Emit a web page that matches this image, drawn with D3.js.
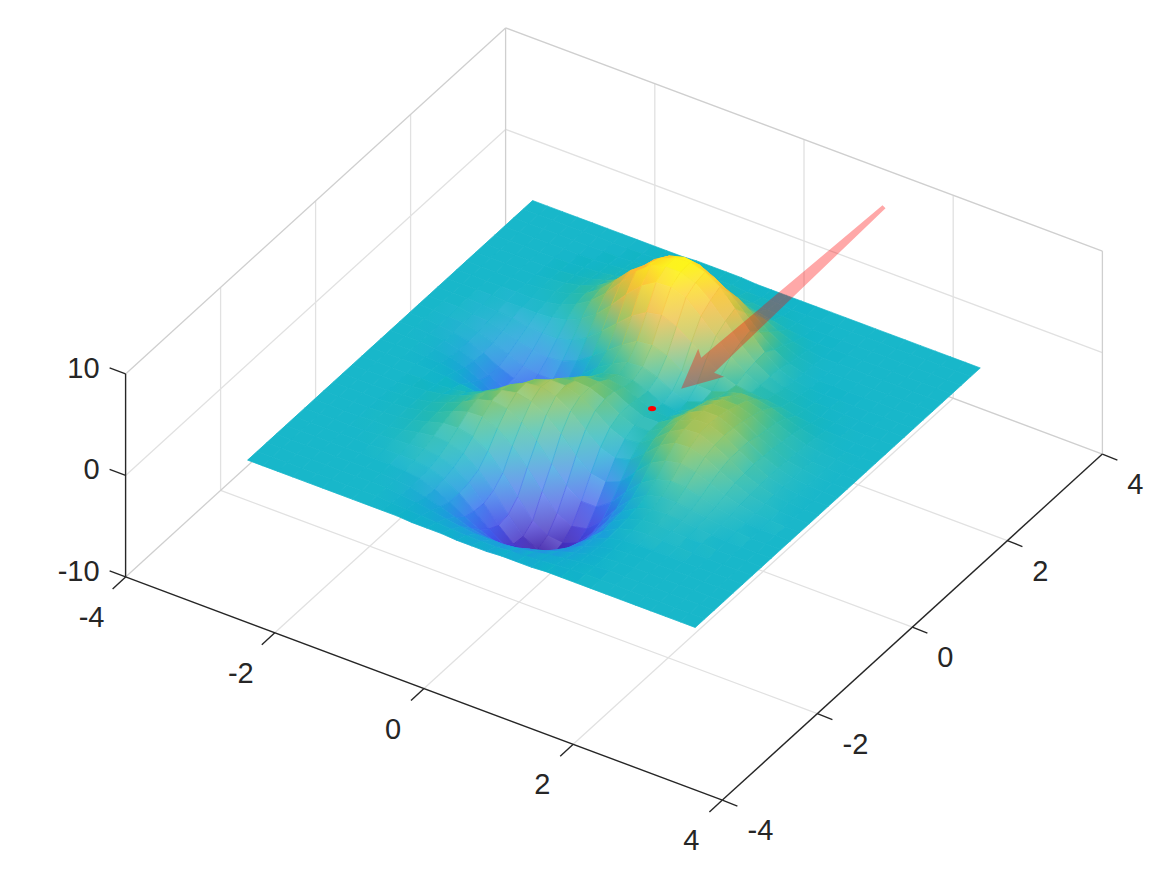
<!DOCTYPE html>
<html><head><meta charset="utf-8">
<script src="https://cdn.jsdelivr.net/npm/d3@7"></script>
<style>html,body{margin:0;background:#fff}svg{display:block}text{font-family:"Liberation Sans",Arial,sans-serif;font-size:29px;fill:#262626}</style>
</head><body><div id="c"></div>
<script>
// Heights are hand-typed eye estimates at 0.2 spacing; the source mesh is about four times finer.
const xGrid=[-3,-2.8,-2.6,-2.4,-2.2,-2,-1.8,-1.6,-1.4,-1.2,-1,-.8,-.6,-.4,-.2,0,.2,.4,.6,.8,1,1.2,1.4,1.6,1.8,2,2.2,2.4,2.6,2.8,3];
const yGrid=[-3,-2.8,-2.6,-2.4,-2.2,-2,-1.8,-1.6,-1.4,-1.2,-1,-.8,-.6,-.4,-.2,0,.2,.4,.6,.8,1,1.2,1.4,1.6,1.8,2,2.2,2.4,2.6,2.8,3];
const zRows=[
[0,0,0,0,0,0,0,0,0,0,0,-.1,-.1,-.1,-.2,-.2,-.2,-.1,-.1,-.1,0,0,0,0,0,0,0,0,0,0,0],
[0,0,0,0,0,0,0,0,0,-.1,-.2,-.3,-.4,-.5,-.6,-.6,-.6,-.5,-.4,-.3,-.2,-.1,0,0,0,0,0,0,0,0,0],
[0,0,0,0,0,0,0,0,0,-.2,-.4,-.6,-.9,-1.1,-1.3,-1.3,-1.3,-1.1,-.9,-.6,-.4,-.2,-.1,0,0,0,0,0,0,0,0],
[0,0,0,0,0,0,0,0,-.1,-.3,-.7,-1.1,-1.6,-2.1,-2.4,-2.5,-2.4,-2,-1.6,-1.1,-.7,-.3,-.1,0,0,0,0,0,0,0,0],
[0,0,0,0,0,0,0,0,-.1,-.3,-.8,-1.5,-2.4,-3.1,-3.7,-3.9,-3.7,-3.2,-2.4,-1.6,-.9,-.4,-.1,0,0,0,0,0,0,0,0],
[0,0,0,0,0,0,.1,.1,.1,-.1,-.6,-1.5,-2.7,-3.9,-4.9,-5.3,-5.1,-4.3,-3.2,-2,-1,-.4,-.1,0,0,0,0,0,0,0,0],
[0,0,0,0,0,.1,.2,.3,.4,.2,-.3,-1.3,-2.8,-4.4,-5.7,-6.3,-6.2,-5.3,-3.9,-2.4,-1.1,-.3,.1,.2,.1,.1,0,0,0,0,0],
[0,0,0,0,.1,.1,.3,.6,.8,.7,.2,-.9,-2.4,-4.2,-5.8,-6.5,-6.5,-5.7,-4.2,-2.5,-1,-.2,.2,.3,.2,.1,.1,0,0,0,0],
[0,0,0,0,.1,.2,.4,.8,1.2,1.3,1,.1,-1.5,-3.3,-5.1,-6,-6.2,-5.6,-4.1,-2.4,-.9,0,.4,.5,.4,.2,.1,0,0,0,0],
[0,0,0,0,.1,.2,.5,.9,1.5,2,2.1,1.5,.3,-1.3,-3.1,-4.7,-5.4,-5.1,-3.8,-2,-.5,.4,.8,.8,.6,.4,.2,.1,0,0,0],
[0,0,0,0,.1,.2,.5,1,1.6,2.4,2.8,2.6,1.8,.5,-1.2,-2.8,-3.8,-3.8,-2.8,-1.2,.2,1.1,1.5,1.4,1,.6,.3,.1,0,0,0],
[0,0,0,0,.1,.2,.4,.8,1.4,2.3,3,3.3,3,2.2,.9,-.7,-1.9,-2.2,-1.6,-.1,1.3,2.1,2.4,2.1,1.5,.9,.5,.2,.1,0,0],
[0,0,0,0,0,0,.1,.3,.9,1.7,2.7,3.4,3.6,3.2,2.3,1,-.2,-.7,-.3,.9,2.2,3,3.1,2.7,1.9,1.2,.6,.3,.1,0,0],
[0,0,0,0,0,-.1,-.3,-.5,-.1,.7,1.9,2.9,3.4,3.4,2.9,2,.9,.3,.5,1.5,2.7,3.5,3.6,3,2.2,1.3,.7,.3,.1,0,0],
[0,0,0,-.1,-.2,-.4,-1,-1.5,-1.4,-.6,.6,1.9,2.7,3,2.9,2.3,1.4,.8,.8,1.7,2.9,3.6,3.7,3.1,2.2,1.4,.7,.3,.1,0,0],
[0,0,0,-.2,-.4,-.9,-1.6,-2.4,-2.6,-1.9,-.7,.8,1.9,2.6,2.6,2.2,1.4,.8,.8,1.7,2.9,3.6,3.6,3,2.2,1.3,.7,.3,.1,0,0],
[0,0,-.1,-.2,-.6,-1.1,-2,-2.7,-3,-2.7,-1.6,-.2,1,1.7,2,1.8,1.2,.6,.5,1.4,2.6,3.4,3.4,2.8,1.9,1.2,.6,.3,.1,0,0],
[0,0,-.1,-.3,-.6,-1.2,-2,-2.6,-3,-2.9,-2.1,-.9,.3,1.2,1.6,1.6,1.1,.4,.2,1,2.3,3,3,2.5,1.7,1,.5,.2,.1,0,0],
[0,0,-.1,-.2,-.5,-1,-1.6,-2.2,-2.5,-2.5,-1.9,-.8,.4,1.3,2,2.1,1.6,.8,.3,.8,1.8,2.5,2.6,2.2,1.5,.9,.4,.2,.1,0,0],
[0,0,0,-.2,-.3,-.7,-1.1,-1.5,-1.7,-1.5,-.9,.1,1.2,2.3,3.2,3.4,2.9,1.9,1.1,1,1.5,1.9,1.9,1.6,1.1,.6,.3,.1,0,0,0],
[0,0,0,-.1,-.2,-.3,-.6,-.7,-.7,-.3,.5,1.7,3,4.3,5.2,5.5,4.9,3.9,2.8,1.8,1.3,1.1,1,.8,.5,.3,.1,.1,0,0,0],
[0,0,0,0,-.1,-.1,-.1,0,.3,1,2,3.4,5,6.4,7.3,7.4,6.9,5.6,4.2,2.8,1.7,1,.7,.5,.3,.1,.1,0,0,0,0],
[0,0,0,0,0,0,.1,.4,1,1.9,3.2,4.8,6.4,7.6,8,8,7.5,6.3,4.8,3.2,1.9,1,.5,.3,.1,.1,0,0,0,0,0],
[0,0,0,0,0,.1,.3,.6,1.2,2.2,3.6,5.1,6.2,7.4,8,8.1,7.7,6.8,5.2,3.5,2,.9,.3,.1,0,0,0,0,0,0,0],
[0,0,0,0,0,.1,.3,.6,1.1,2,3.2,4.5,5.9,6.8,7.2,7,6.3,5.4,4,2.6,1.4,.6,.2,0,0,0,0,0,0,0,0],
[0,0,0,0,0,.1,.2,.4,.8,1.4,2.3,3.3,4.3,5,5.2,5.1,4.5,3.9,2.9,1.8,1,.4,.1,0,0,0,0,0,0,0,0],
[0,0,0,0,0,0,.1,.2,.4,.8,1.3,2,2.6,3,3.1,3,2.6,2.1,1.7,1,.5,.2,0,0,0,0,0,0,0,0,0],
[0,0,0,0,0,0,0,.1,.2,.4,.6,1,1.3,1.5,1.5,1.4,1.2,.9,.6,.3,.1,0,0,0,0,0,0,0,0,0,0],
[0,0,0,0,0,0,0,0,.1,.2,.3,.4,.6,.6,.6,.5,.4,.3,.2,.1,0,0,0,0,0,0,0,0,0,0,0],
[0,0,0,0,0,0,0,0,0,.1,.1,.2,.2,.2,.2,.1,.1,.1,0,0,0,0,0,0,0,0,0,0,0,0,0],
[0,0,0,0,0,0,0,0,0,0,0,.1,.1,.1,.1,0,0,0,0,0,0,0,0,0,0,0,0,0,0,0,0]];
const xTicks=[-4,-2,0,2,4], yTicks=[-4,-2,0,2,4], zTicks=[-10,0,10];
const colorStopZ=[-6.5,-5,-3,-1.5,0,1.5,3,4,5,6.5,8.1];
const colorStops=["#3c1fa8","#4440e0","#3a6cf0","#1e98e0","#0fb4c8","#30bca0","#80c060","#b5bd45","#eab43a","#fdbb2f","#fdf510"];
const markX=[.305], markY=[.322], markZ=[0];
const arrowX=[.373,.433,.520,.657,.373,.119,.241], arrowY=[5.067,5.036,1.291,1.287,.827,1.586,1.457], arrowZ=[0,0,0,0,0,0,0];

const W=1167,H=880;
const xToPx=d3.scaleLinear([-4,4],[-298.4,298.4]), yToPx=d3.scaleLinear([-4,4],[-190,190]);
const xToPy=d3.scaleLinear([-4,4],[-111.6,111.6]), yToPy=d3.scaleLinear([-4,4],[173,-173]), zToPy=d3.scaleLinear([-10,10],[101.5,-101.5]);
const proj=(x,y,z)=>[614+xToPx(x)+yToPx(y),414+xToPy(x)+yToPy(y)+zToPy(z)];
const color=d3.scaleLinear().domain(colorStopZ).range(colorStops).interpolate(d3.interpolateRgb).clamp(true);
const svg=d3.select("#c").append("svg").attr("width",W).attr("height",H).attr("viewBox",[0,0,W,H]);
const defs=svg.append("defs");
const seg=(g,a,b,c,w)=>g.append("line").attr("x1",a[0]).attr("y1",a[1]).attr("x2",b[0]).attr("y2",b[1]).attr("stroke",c).attr("stroke-width",w);

// grid and box
const grid=svg.append("g"),gc="#e1e1e1",bc="#cfcfcf";
for(const t of xTicks.slice(1,-1)){
  seg(grid,proj(t,-4,-10),proj(t,4,-10),gc,1.3);
  seg(grid,proj(t,4,-10),proj(t,4,10),gc,1.3);
}
for(const t of yTicks.slice(1,-1)){
  seg(grid,proj(-4,t,-10),proj(4,t,-10),gc,1.3);
  seg(grid,proj(-4,t,-10),proj(-4,t,10),gc,1.3);
}
seg(grid,proj(-4,-4,0),proj(-4,4,0),gc,1.3);
seg(grid,proj(-4,4,0),proj(4,4,0),gc,1.3);
[[[-4,-4,10],[-4,4,10]],[[-4,4,10],[4,4,10]],[[-4,4,-10],[-4,4,10]],[[4,4,-10],[4,4,10]],[[-4,-4,-10],[-4,4,-10]],[[-4,4,-10],[4,4,-10]]]
 .forEach(([a,b])=>seg(grid,proj(...a),proj(...b),bc,1.3));

// surface, far cells first; shade follows how densely the source mesh lines pack on screen
const lineW=2.5;
const pt=(a,b)=>proj(xGrid[a],yGrid[b],zRows[b][a]);
const nx=xGrid.length,ny=yGrid.length;
const covAt=new Map(),cells=[];
for(let j=0;j<ny-1;j++)for(let i=0;i<nx-1;i++){
  const p=[pt(i,j),pt(i+1,j),pt(i+1,j+1),pt(i,j+1)];
  const area=Math.max(Math.abs(d3.polygonArea(p)),1);
  const e1=Math.hypot(p[1][0]-p[0][0],p[1][1]-p[0][1]),e2=Math.hypot(p[3][0]-p[0][0],p[3][1]-p[0][1]);
  const c=1-(1-Math.min(1,lineW*4*e1/area))*(1-Math.min(1,lineW*4*e2/area));
  cells.push({i,j,p,c,d:xGrid[i]-yGrid[j]});
  for(const k of [i+","+j,(i+1)+","+j,(i+1)+","+(j+1),i+","+(j+1)]){(covAt.get(k)||covAt.set(k,[]).get(k)).push(c);}
}
cells.sort((a,b)=>a.d-b.d);
const shade=(a,b)=>d3.interpolateRgb("#fff",color(zRows[b][a]))(d3.mean(covAt.get(a+","+b)));
const surf=svg.append("g").attr("stroke-linejoin","round");
cells.forEach(({i,j,p},n)=>{
  const idx=[[i,j],[i+1,j],[i+1,j+1],[i,j+1]];
  const zs=idx.map(([a,b])=>zRows[b][a]);
  const lo=d3.minIndex(zs),hi=d3.maxIndex(zs);
  const id="g"+n;
  const g=defs.append("linearGradient").attr("id",id).attr("gradientUnits","userSpaceOnUse")
    .attr("x1",p[lo][0]).attr("y1",p[lo][1]).attr("x2",p[hi][0]===p[lo][0]&&p[hi][1]===p[lo][1]?p[lo][0]+1:p[hi][0]).attr("y2",p[hi][1]);
  g.append("stop").attr("offset",0).attr("stop-color",shade(...idx[lo]));
  g.append("stop").attr("offset",1).attr("stop-color",shade(...idx[hi]));
  surf.append("path").attr("d",d3.line()(p)+"Z").attr("fill",`url(#${id})`).attr("stroke",`url(#${id})`).attr("stroke-width",.7);
  surf.append("path").attr("d",d3.line()([p[3],p[0],p[1]])).attr("fill","none").attr("stroke",color(d3.mean(zs))).attr("stroke-width",.8).attr("stroke-opacity",.55);
});

// marker and arrow
const mk=proj(markX[0],markY[0],markZ[0]);
svg.append("ellipse").attr("cx",mk[0]).attr("cy",mk[1]).attr("rx",4).attr("ry",2.6).attr("fill","#f00");
svg.append("path").attr("d",d3.line()(arrowX.map((x,i)=>proj(x,arrowY[i],arrowZ[i])))+"Z").attr("fill","#f00").attr("fill-opacity",.34);

// axes
const ax=svg.append("g"),ac="#262626";
seg(ax,proj(-4,-4,-10),proj(-4,-4,10),ac,1.4);
seg(ax,proj(-4,-4,-10),proj(4,-4,-10),ac,1.4);
seg(ax,proj(4,-4,-10),proj(4,4,-10),ac,1.4);
for(const t of xTicks){const a=proj(t,-4,-10);seg(ax,a,[a[0]-13,a[1]+12],ac,1.4);
  ax.append("text").attr("x",a[0]-(t<0?34:31)).attr("y",a[1]+50).attr("text-anchor","middle").text(t);}
for(const t of yTicks){const a=proj(4,t,-10);seg(ax,a,[a[0]+15,a[1]+6],ac,1.4);
  ax.append("text").attr("x",a[0]+(t<0?38:33)).attr("y",a[1]+40).attr("text-anchor","middle").text(t);}
for(const t of zTicks){const a=proj(-4,-4,t);seg(ax,a,[a[0]-16,a[1]-6],ac,1.4);
  ax.append("text").attr("x",a[0]-26).attr("y",a[1]+4).attr("text-anchor","end").text(t);}
</script></body></html>
